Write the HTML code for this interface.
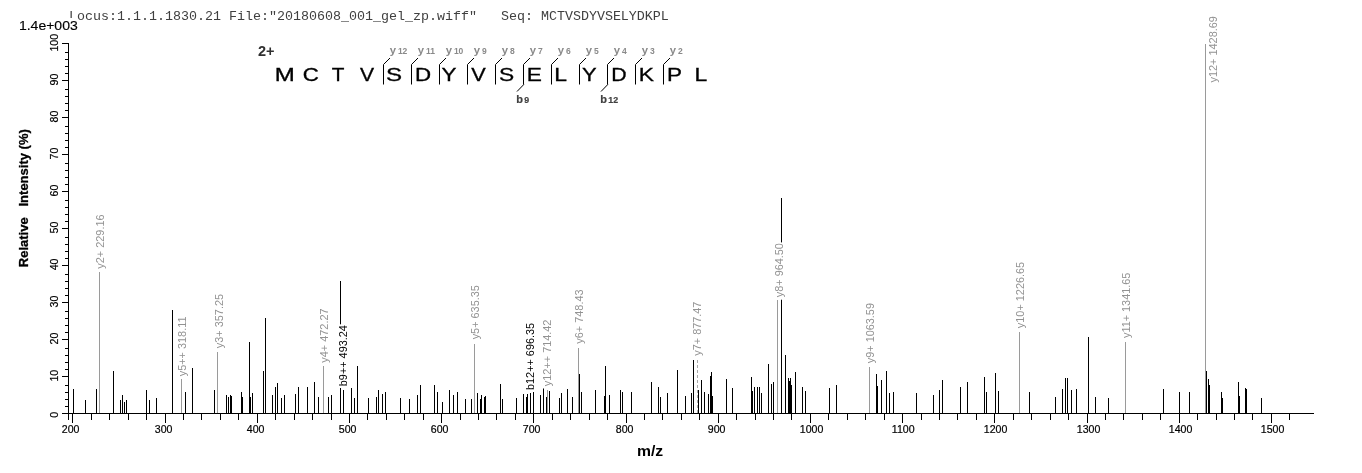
<!DOCTYPE html>
<html><head><meta charset="utf-8"><style>
html,body{margin:0;padding:0;background:#fff;}
body{width:1362px;height:473px;overflow:hidden;position:relative;}
svg{position:absolute;left:0;top:0;will-change:transform;}
text{font-family:"Liberation Sans",sans-serif;}
.pl{font-size:10.0px;}
.tl{font-size:10.0px;fill:#000;stroke:#000;stroke-width:0.2px;}
.sq{font-size:17.8px;fill:#000;stroke:#000;stroke-width:0.3px;}
.yi{font-size:11.3px;font-weight:bold;fill:#8a8a8a;}
.ys{font-size:8.5px;}
.bi{font-size:11px;font-weight:bold;fill:#404040;stroke:#404040;stroke-width:0.2px;}
.bs{font-size:8.8px;}
.hdr{font-family:"Liberation Mono",monospace;font-size:13.33px;fill:#404040;}
</style></head><body>
<svg width="1362" height="473" viewBox="0 0 1362 473">
<text x="69" y="19.8" class="hdr" xml:space="preserve">Locus:1.1.1.1830.21 File:"20180608_001_gel_zp.wiff"   Seq: MCTVSDYVSELYDKPL</text>
<rect x="18" y="18" width="59" height="13" fill="#fff"/>
<text transform="translate(18.9,30) scale(1.055,1)" style="font-size:13.3px;stroke:#000;stroke-width:0.15px" fill="#000">1.4e+003</text>
<rect x="73" y="389" width="1" height="24" fill="#000"/><rect x="85" y="400" width="1" height="13" fill="#000"/><rect x="96" y="389" width="1" height="24" fill="#000"/><rect x="99" y="272" width="1" height="141" fill="#9a9a9a"/><rect x="113" y="371" width="1" height="42" fill="#000"/><rect x="120" y="400" width="1" height="13" fill="#000"/><rect x="122" y="395" width="1" height="18" fill="#000"/><rect x="124" y="402" width="1" height="11" fill="#000"/><rect x="126" y="400" width="1" height="13" fill="#000"/><rect x="146" y="390" width="1" height="23" fill="#000"/><rect x="149" y="400" width="1" height="13" fill="#000"/><rect x="156" y="398" width="1" height="15" fill="#000"/><rect x="172" y="310" width="1" height="103" fill="#000"/><rect x="181" y="379" width="1" height="34" fill="#9a9a9a"/><rect x="185" y="392" width="1" height="21" fill="#000"/><rect x="192" y="368" width="1" height="45" fill="#000"/><rect x="214" y="390" width="1" height="23" fill="#000"/><rect x="217" y="352" width="1" height="61" fill="#9a9a9a"/><rect x="226" y="395" width="1" height="18" fill="#000"/><rect x="228" y="397" width="1" height="16" fill="#000"/><rect x="230" y="395" width="1" height="18" fill="#000"/><rect x="231" y="396" width="1" height="17" fill="#000"/><rect x="241" y="392" width="1" height="21" fill="#000"/><rect x="242" y="397" width="1" height="16" fill="#000"/><rect x="249" y="342" width="1" height="71" fill="#000"/><rect x="250" y="397" width="1" height="16" fill="#000"/><rect x="252" y="393" width="1" height="20" fill="#000"/><rect x="263" y="371" width="1" height="42" fill="#000"/><rect x="265" y="318" width="1" height="95" fill="#000"/><rect x="272" y="395" width="1" height="18" fill="#000"/><rect x="275" y="387" width="1" height="26" fill="#000"/><rect x="277" y="383" width="1" height="30" fill="#000"/><rect x="281" y="398" width="1" height="15" fill="#000"/><rect x="284" y="395" width="1" height="18" fill="#000"/><rect x="295" y="394" width="1" height="19" fill="#000"/><rect x="298" y="387" width="1" height="26" fill="#000"/><rect x="307" y="387" width="1" height="26" fill="#000"/><rect x="314" y="382" width="1" height="31" fill="#000"/><rect x="318" y="397" width="1" height="16" fill="#000"/><rect x="323" y="366" width="1" height="47" fill="#9a9a9a"/><rect x="328" y="397" width="1" height="16" fill="#000"/><rect x="331" y="395" width="1" height="18" fill="#000"/><rect x="340" y="281" width="1" height="132" fill="#000"/><rect x="343" y="390" width="1" height="23" fill="#000"/><rect x="351" y="388" width="1" height="25" fill="#000"/><rect x="354" y="398" width="1" height="15" fill="#000"/><rect x="357" y="366" width="1" height="47" fill="#000"/><rect x="368" y="398" width="1" height="15" fill="#000"/><rect x="376" y="397" width="1" height="16" fill="#000"/><rect x="378" y="390" width="1" height="23" fill="#000"/><rect x="382" y="394" width="1" height="19" fill="#000"/><rect x="385" y="392" width="1" height="21" fill="#000"/><rect x="400" y="398" width="1" height="15" fill="#000"/><rect x="409" y="399" width="1" height="14" fill="#000"/><rect x="417" y="395" width="1" height="18" fill="#000"/><rect x="420" y="385" width="1" height="28" fill="#000"/><rect x="434" y="385" width="1" height="28" fill="#000"/><rect x="437" y="392" width="1" height="21" fill="#000"/><rect x="442" y="402" width="1" height="11" fill="#000"/><rect x="449" y="390" width="1" height="23" fill="#000"/><rect x="453" y="395" width="1" height="18" fill="#000"/><rect x="457" y="392" width="1" height="21" fill="#000"/><rect x="465" y="399" width="1" height="14" fill="#000"/><rect x="471" y="399" width="1" height="14" fill="#000"/><rect x="474" y="344" width="1" height="69" fill="#9a9a9a"/><rect x="477" y="393" width="1" height="20" fill="#000"/><rect x="480" y="399" width="1" height="14" fill="#000"/><rect x="481" y="395" width="1" height="18" fill="#000"/><rect x="484" y="397" width="1" height="16" fill="#000"/><rect x="485" y="396" width="1" height="17" fill="#000"/><rect x="500" y="384" width="1" height="29" fill="#000"/><rect x="502" y="399" width="1" height="14" fill="#000"/><rect x="516" y="398" width="1" height="15" fill="#000"/><rect x="523" y="394" width="1" height="19" fill="#000"/><rect x="526" y="397" width="1" height="16" fill="#000"/><rect x="527" y="394" width="1" height="19" fill="#000"/><rect x="530" y="393" width="1" height="20" fill="#000"/><rect x="533" y="392" width="1" height="21" fill="#000"/><rect x="540" y="395" width="1" height="18" fill="#000"/><rect x="543" y="388" width="1" height="25" fill="#000"/><rect x="546" y="397" width="1" height="16" fill="#000"/><rect x="547" y="390" width="1" height="23" fill="#9a9a9a"/><rect x="549" y="391" width="1" height="22" fill="#000"/><rect x="559" y="398" width="1" height="15" fill="#000"/><rect x="561" y="393" width="1" height="20" fill="#000"/><rect x="567" y="389" width="1" height="24" fill="#000"/><rect x="572" y="397" width="1" height="16" fill="#000"/><rect x="578" y="348" width="1" height="65" fill="#9a9a9a"/><rect x="579" y="374" width="1" height="39" fill="#000"/><rect x="581" y="392" width="1" height="21" fill="#000"/><rect x="595" y="390" width="1" height="23" fill="#000"/><rect x="604" y="396" width="1" height="17" fill="#000"/><rect x="605" y="366" width="1" height="47" fill="#000"/><rect x="609" y="395" width="1" height="18" fill="#000"/><rect x="620" y="390" width="1" height="23" fill="#000"/><rect x="622" y="392" width="1" height="21" fill="#000"/><rect x="631" y="392" width="1" height="21" fill="#000"/><rect x="651" y="382" width="1" height="31" fill="#000"/><rect x="658" y="387" width="1" height="26" fill="#000"/><rect x="660" y="397" width="1" height="16" fill="#000"/><rect x="667" y="393" width="1" height="20" fill="#000"/><rect x="677" y="370" width="1" height="43" fill="#000"/><rect x="685" y="396" width="1" height="17" fill="#000"/><rect x="691" y="393" width="1" height="20" fill="#000"/><rect x="693" y="360" width="1" height="53" fill="#000"/><path d="M697.5 360 V413" stroke="#a8a8a8" stroke-width="1" stroke-dasharray="3 2" fill="none"/><rect x="698" y="390" width="1" height="23" fill="#000"/><rect x="701" y="380" width="1" height="33" fill="#000"/><rect x="704" y="392" width="1" height="21" fill="#000"/><rect x="708" y="394" width="1" height="19" fill="#000"/><rect x="710" y="376" width="1" height="37" fill="#000"/><rect x="711" y="372" width="1" height="41" fill="#000"/><rect x="712" y="396" width="1" height="17" fill="#000"/><rect x="726" y="379" width="1" height="34" fill="#000"/><rect x="732" y="388" width="1" height="25" fill="#000"/><rect x="751" y="377" width="1" height="36" fill="#000"/><rect x="752" y="391" width="1" height="22" fill="#000"/><rect x="754" y="387" width="1" height="26" fill="#000"/><rect x="757" y="387" width="1" height="26" fill="#000"/><rect x="759" y="387" width="1" height="26" fill="#000"/><rect x="761" y="393" width="1" height="20" fill="#000"/><rect x="768" y="364" width="1" height="49" fill="#000"/><rect x="771" y="384" width="1" height="29" fill="#000"/><rect x="773" y="382" width="1" height="31" fill="#000"/><rect x="777" y="300" width="1" height="113" fill="#9a9a9a"/><rect x="781" y="198" width="1" height="215" fill="#000"/><rect x="785" y="355" width="1" height="58" fill="#000"/><rect x="788" y="378" width="1" height="35" fill="#000"/><rect x="789" y="381" width="1" height="32" fill="#000"/><rect x="790" y="378" width="1" height="35" fill="#000"/><rect x="791" y="385" width="1" height="28" fill="#000"/><rect x="795" y="372" width="1" height="41" fill="#000"/><rect x="802" y="387" width="1" height="26" fill="#000"/><rect x="805" y="391" width="1" height="22" fill="#000"/><rect x="829" y="388" width="1" height="25" fill="#000"/><rect x="836" y="385" width="1" height="28" fill="#000"/><rect x="869" y="367" width="1" height="46" fill="#9a9a9a"/><rect x="876" y="374" width="1" height="39" fill="#000"/><rect x="877" y="386" width="1" height="27" fill="#000"/><rect x="881" y="380" width="1" height="33" fill="#000"/><rect x="886" y="371" width="1" height="42" fill="#000"/><rect x="889" y="393" width="1" height="20" fill="#000"/><rect x="893" y="392" width="1" height="21" fill="#000"/><rect x="916" y="393" width="1" height="20" fill="#000"/><rect x="933" y="395" width="1" height="18" fill="#000"/><rect x="939" y="390" width="1" height="23" fill="#000"/><rect x="942" y="380" width="1" height="33" fill="#000"/><rect x="960" y="387" width="1" height="26" fill="#000"/><rect x="967" y="382" width="1" height="31" fill="#000"/><rect x="984" y="377" width="1" height="36" fill="#000"/><rect x="986" y="392" width="1" height="21" fill="#000"/><rect x="995" y="373" width="1" height="40" fill="#000"/><rect x="998" y="391" width="1" height="22" fill="#000"/><rect x="1019" y="332" width="1" height="81" fill="#9a9a9a"/><rect x="1029" y="392" width="1" height="21" fill="#000"/><rect x="1055" y="397" width="1" height="16" fill="#000"/><rect x="1062" y="389" width="1" height="24" fill="#000"/><rect x="1065" y="378" width="1" height="35" fill="#000"/><rect x="1067" y="378" width="1" height="35" fill="#000"/><rect x="1071" y="390" width="1" height="23" fill="#000"/><rect x="1076" y="389" width="1" height="24" fill="#000"/><rect x="1088" y="337" width="1" height="76" fill="#000"/><rect x="1095" y="397" width="1" height="16" fill="#000"/><rect x="1108" y="398" width="1" height="15" fill="#000"/><rect x="1125" y="342" width="1" height="71" fill="#9a9a9a"/><rect x="1163" y="389" width="1" height="24" fill="#000"/><rect x="1179" y="392" width="1" height="21" fill="#000"/><rect x="1189" y="392" width="1" height="21" fill="#000"/><rect x="1205" y="44" width="1" height="369" fill="#9a9a9a"/><rect x="1206" y="371" width="1" height="42" fill="#000"/><rect x="1208" y="379" width="1" height="34" fill="#000"/><rect x="1209" y="385" width="1" height="28" fill="#000"/><rect x="1221" y="392" width="1" height="21" fill="#000"/><rect x="1222" y="398" width="1" height="15" fill="#000"/><rect x="1238" y="382" width="1" height="31" fill="#000"/><rect x="1239" y="396" width="1" height="17" fill="#000"/><rect x="1245" y="388" width="1" height="25" fill="#000"/><rect x="1246" y="389" width="1" height="24" fill="#000"/><rect x="1261" y="398" width="1" height="15" fill="#000"/>
<rect x="96.7" y="213.9" width="9.1" height="57.2" fill="#fff"/><text transform="translate(104.29,268.63) rotate(-90) scale(1.09,1)" class="pl" fill="#929292">y2+ 229.16</text><rect x="178.7" y="315.1" width="9.1" height="63.6" fill="#fff"/><text transform="translate(186.29,376.23) rotate(-90) scale(1.09,1)" class="pl" fill="#929292">y5++ 318.11</text><rect x="215.7" y="293.3" width="9.1" height="57.3" fill="#fff"/><text transform="translate(223.29,348.13) rotate(-90) scale(1.09,1)" class="pl" fill="#929292">y3+ 357.25</text><rect x="320.4" y="307.9" width="9.1" height="57.2" fill="#fff"/><text transform="translate(327.99,362.63) rotate(-90) scale(1.09,1)" class="pl" fill="#929292">y4+ 472.27</text><rect x="339.9" y="324.3" width="9.1" height="63.7" fill="#fff"/><text transform="translate(347.49,386.20) rotate(-90) scale(1.09,1)" class="pl" fill="#000">b9++ 493.24</text><rect x="471.8" y="284.5" width="9.1" height="57.3" fill="#fff"/><text transform="translate(479.39,339.33) rotate(-90) scale(1.09,1)" class="pl" fill="#929292">y5+ 635.35</text><rect x="526.9" y="322.2" width="9.1" height="69.6" fill="#fff"/><text transform="translate(534.49,390.00) rotate(-90) scale(1.09,1)" class="pl" fill="#000">b12++ 696.35</text><rect x="543.2" y="319.0" width="9.1" height="69.6" fill="#fff"/><text transform="translate(550.79,386.13) rotate(-90) scale(1.09,1)" class="pl" fill="#929292">y12++ 714.42</text><rect x="575.8" y="288.9" width="9.1" height="57.2" fill="#fff"/><text transform="translate(583.39,343.63) rotate(-90) scale(1.09,1)" class="pl" fill="#929292">y6+ 748.43</text><rect x="693.7" y="301.0" width="9.1" height="57.2" fill="#fff"/><text transform="translate(701.29,355.73) rotate(-90) scale(1.09,1)" class="pl" fill="#929292">y7+ 877.47</text><rect x="775.1" y="242.4" width="9.1" height="57.3" fill="#fff"/><text transform="translate(782.69,297.23) rotate(-90) scale(1.09,1)" class="pl" fill="#929292">y8+ 964.50</text><rect x="866.1" y="302.4" width="9.1" height="63.3" fill="#fff"/><text transform="translate(873.69,363.23) rotate(-90) scale(1.09,1)" class="pl" fill="#929292">y9+ 1063.59</text><rect x="1016.7" y="261.2" width="9.1" height="69.4" fill="#fff"/><text transform="translate(1024.29,328.13) rotate(-90) scale(1.09,1)" class="pl" fill="#929292">y10+ 1226.65</text><rect x="1122.6" y="271.1" width="9.1" height="69.4" fill="#fff"/><text transform="translate(1130.19,338.03) rotate(-90) scale(1.09,1)" class="pl" fill="#929292">y11+ 1341.65</text><rect x="1209.4" y="15.6" width="9.1" height="69.3" fill="#fff"/><text transform="translate(1216.99,82.43) rotate(-90) scale(1.09,1)" class="pl" fill="#929292">y12+ 1428.69</text>
<rect x="62" y="413" width="1252" height="1" fill="#000"/><rect x="68" y="43" width="1" height="377" fill="#000"/><rect x="72" y="414" width="1" height="9" fill="#000"/><text transform="translate(61.80,433) scale(1.06,1)" class="tl">200</text><rect x="91" y="414" width="1" height="6" fill="#000"/><rect x="109" y="414" width="1" height="6" fill="#000"/><rect x="128" y="414" width="1" height="6" fill="#000"/><rect x="146" y="414" width="1" height="6" fill="#000"/><rect x="165" y="414" width="1" height="9" fill="#000"/><text transform="translate(154.80,433) scale(1.06,1)" class="tl">300</text><rect x="183" y="414" width="1" height="6" fill="#000"/><rect x="201" y="414" width="1" height="6" fill="#000"/><rect x="220" y="414" width="1" height="6" fill="#000"/><rect x="238" y="414" width="1" height="6" fill="#000"/><rect x="257" y="414" width="1" height="9" fill="#000"/><text transform="translate(246.80,433) scale(1.06,1)" class="tl">400</text><rect x="275" y="414" width="1" height="6" fill="#000"/><rect x="294" y="414" width="1" height="6" fill="#000"/><rect x="312" y="414" width="1" height="6" fill="#000"/><rect x="331" y="414" width="1" height="6" fill="#000"/><rect x="349" y="414" width="1" height="9" fill="#000"/><text transform="translate(338.80,433) scale(1.06,1)" class="tl">500</text><rect x="367" y="414" width="1" height="6" fill="#000"/><rect x="386" y="414" width="1" height="6" fill="#000"/><rect x="404" y="414" width="1" height="6" fill="#000"/><rect x="423" y="414" width="1" height="6" fill="#000"/><rect x="441" y="414" width="1" height="9" fill="#000"/><text transform="translate(430.80,433) scale(1.06,1)" class="tl">600</text><rect x="460" y="414" width="1" height="6" fill="#000"/><rect x="478" y="414" width="1" height="6" fill="#000"/><rect x="496" y="414" width="1" height="6" fill="#000"/><rect x="515" y="414" width="1" height="6" fill="#000"/><rect x="533" y="414" width="1" height="9" fill="#000"/><text transform="translate(522.80,433) scale(1.06,1)" class="tl">700</text><rect x="552" y="414" width="1" height="6" fill="#000"/><rect x="570" y="414" width="1" height="6" fill="#000"/><rect x="589" y="414" width="1" height="6" fill="#000"/><rect x="607" y="414" width="1" height="6" fill="#000"/><rect x="626" y="414" width="1" height="9" fill="#000"/><text transform="translate(615.80,433) scale(1.06,1)" class="tl">800</text><rect x="644" y="414" width="1" height="6" fill="#000"/><rect x="662" y="414" width="1" height="6" fill="#000"/><rect x="681" y="414" width="1" height="6" fill="#000"/><rect x="699" y="414" width="1" height="6" fill="#000"/><rect x="718" y="414" width="1" height="9" fill="#000"/><text transform="translate(707.80,433) scale(1.06,1)" class="tl">900</text><rect x="736" y="414" width="1" height="6" fill="#000"/><rect x="755" y="414" width="1" height="6" fill="#000"/><rect x="773" y="414" width="1" height="6" fill="#000"/><rect x="791" y="414" width="1" height="6" fill="#000"/><rect x="810" y="414" width="1" height="9" fill="#000"/><text transform="translate(799.80,433) scale(1.06,1)" class="tl">1000</text><rect x="828" y="414" width="1" height="6" fill="#000"/><rect x="847" y="414" width="1" height="6" fill="#000"/><rect x="865" y="414" width="1" height="6" fill="#000"/><rect x="884" y="414" width="1" height="6" fill="#000"/><rect x="902" y="414" width="1" height="9" fill="#000"/><text transform="translate(891.80,433) scale(1.06,1)" class="tl">1100</text><rect x="921" y="414" width="1" height="6" fill="#000"/><rect x="939" y="414" width="1" height="6" fill="#000"/><rect x="957" y="414" width="1" height="6" fill="#000"/><rect x="976" y="414" width="1" height="6" fill="#000"/><rect x="994" y="414" width="1" height="9" fill="#000"/><text transform="translate(983.80,433) scale(1.06,1)" class="tl">1200</text><rect x="1013" y="414" width="1" height="6" fill="#000"/><rect x="1031" y="414" width="1" height="6" fill="#000"/><rect x="1050" y="414" width="1" height="6" fill="#000"/><rect x="1068" y="414" width="1" height="6" fill="#000"/><rect x="1087" y="414" width="1" height="9" fill="#000"/><text transform="translate(1076.80,433) scale(1.06,1)" class="tl">1300</text><rect x="1105" y="414" width="1" height="6" fill="#000"/><rect x="1123" y="414" width="1" height="6" fill="#000"/><rect x="1142" y="414" width="1" height="6" fill="#000"/><rect x="1160" y="414" width="1" height="6" fill="#000"/><rect x="1179" y="414" width="1" height="9" fill="#000"/><text transform="translate(1168.80,433) scale(1.06,1)" class="tl">1400</text><rect x="1197" y="414" width="1" height="6" fill="#000"/><rect x="1216" y="414" width="1" height="6" fill="#000"/><rect x="1234" y="414" width="1" height="6" fill="#000"/><rect x="1252" y="414" width="1" height="6" fill="#000"/><rect x="1271" y="414" width="1" height="9" fill="#000"/><text transform="translate(1260.80,433) scale(1.06,1)" class="tl">1500</text><rect x="1289" y="414" width="1" height="6" fill="#000"/><rect x="62" y="413" width="6" height="1" fill="#000"/><text transform="translate(58,417.65) rotate(-90) scale(1.06,1)" class="tl">0</text><rect x="65" y="406" width="3" height="1" fill="#000"/><rect x="65" y="399" width="3" height="1" fill="#000"/><rect x="65" y="392" width="3" height="1" fill="#000"/><rect x="65" y="385" width="3" height="1" fill="#000"/><rect x="62" y="376" width="6" height="1" fill="#000"/><text transform="translate(58,381.59) rotate(-90) scale(1.06,1)" class="tl">10</text><rect x="65" y="369" width="3" height="1" fill="#000"/><rect x="65" y="362" width="3" height="1" fill="#000"/><rect x="65" y="355" width="3" height="1" fill="#000"/><rect x="65" y="348" width="3" height="1" fill="#000"/><rect x="62" y="339" width="6" height="1" fill="#000"/><text transform="translate(58,344.45) rotate(-90) scale(1.06,1)" class="tl">20</text><rect x="65" y="332" width="3" height="1" fill="#000"/><rect x="65" y="325" width="3" height="1" fill="#000"/><rect x="65" y="318" width="3" height="1" fill="#000"/><rect x="65" y="311" width="3" height="1" fill="#000"/><rect x="62" y="302" width="6" height="1" fill="#000"/><text transform="translate(58,307.39) rotate(-90) scale(1.06,1)" class="tl">30</text><rect x="65" y="295" width="3" height="1" fill="#000"/><rect x="65" y="288" width="3" height="1" fill="#000"/><rect x="65" y="281" width="3" height="1" fill="#000"/><rect x="65" y="274" width="3" height="1" fill="#000"/><rect x="62" y="265" width="6" height="1" fill="#000"/><text transform="translate(58,270.31) rotate(-90) scale(1.06,1)" class="tl">40</text><rect x="65" y="258" width="3" height="1" fill="#000"/><rect x="65" y="251" width="3" height="1" fill="#000"/><rect x="65" y="244" width="3" height="1" fill="#000"/><rect x="65" y="237" width="3" height="1" fill="#000"/><rect x="62" y="228" width="6" height="1" fill="#000"/><text transform="translate(58,233.40) rotate(-90) scale(1.06,1)" class="tl">50</text><rect x="65" y="221" width="3" height="1" fill="#000"/><rect x="65" y="214" width="3" height="1" fill="#000"/><rect x="65" y="207" width="3" height="1" fill="#000"/><rect x="65" y="200" width="3" height="1" fill="#000"/><rect x="62" y="191" width="6" height="1" fill="#000"/><text transform="translate(58,196.46) rotate(-90) scale(1.06,1)" class="tl">60</text><rect x="65" y="184" width="3" height="1" fill="#000"/><rect x="65" y="177" width="3" height="1" fill="#000"/><rect x="65" y="170" width="3" height="1" fill="#000"/><rect x="65" y="163" width="3" height="1" fill="#000"/><rect x="62" y="154" width="6" height="1" fill="#000"/><text transform="translate(58,159.46) rotate(-90) scale(1.06,1)" class="tl">70</text><rect x="65" y="147" width="3" height="1" fill="#000"/><rect x="65" y="140" width="3" height="1" fill="#000"/><rect x="65" y="133" width="3" height="1" fill="#000"/><rect x="65" y="126" width="3" height="1" fill="#000"/><rect x="62" y="117" width="6" height="1" fill="#000"/><text transform="translate(58,122.42) rotate(-90) scale(1.06,1)" class="tl">80</text><rect x="65" y="110" width="3" height="1" fill="#000"/><rect x="65" y="103" width="3" height="1" fill="#000"/><rect x="65" y="96" width="3" height="1" fill="#000"/><rect x="65" y="89" width="3" height="1" fill="#000"/><rect x="62" y="80" width="6" height="1" fill="#000"/><text transform="translate(58,85.44) rotate(-90) scale(1.06,1)" class="tl">90</text><rect x="65" y="73" width="3" height="1" fill="#000"/><rect x="65" y="66" width="3" height="1" fill="#000"/><rect x="65" y="59" width="3" height="1" fill="#000"/><rect x="65" y="52" width="3" height="1" fill="#000"/><rect x="62" y="43" width="6" height="1" fill="#000"/><text transform="translate(58,51.54) rotate(-90) scale(1.06,1)" class="tl">100</text>
<text transform="translate(28,267.2) rotate(-90)" style="font-size:13px;font-weight:bold;stroke:#000;stroke-width:0.3px" fill="#000" xml:space="preserve">Relative   Intensity (%)</text>
<text transform="translate(637,455.6) scale(1.1,1)" style="font-size:14.3px;font-weight:bold" fill="#000">m/z</text>
<text x="258" y="55.7" style="font-size:14.5px;font-weight:bold" fill="#303030">2+</text>
<text transform="translate(274.63,80.8) scale(1.352,1)" class="sq">M</text><text transform="translate(302.67,80.8) scale(1.251,1)" class="sq">C</text><text transform="translate(331.64,80.8) scale(1.162,1)" class="sq">T</text><text transform="translate(359.91,80.8) scale(1.186,1)" class="sq">V</text><text transform="translate(386.10,80.8) scale(1.356,1)" class="sq">S</text><text transform="translate(414.97,80.8) scale(1.252,1)" class="sq">D</text><text transform="translate(441.61,80.8) scale(1.262,1)" class="sq">Y</text><text transform="translate(471.20,80.8) scale(1.221,1)" class="sq">V</text><text transform="translate(498.97,80.8) scale(1.278,1)" class="sq">S</text><text transform="translate(526.74,80.8) scale(1.275,1)" class="sq">E</text><text transform="translate(554.22,80.8) scale(1.287,1)" class="sq">L</text><text transform="translate(582.02,80.8) scale(1.235,1)" class="sq">Y</text><text transform="translate(611.25,80.8) scale(1.195,1)" class="sq">D</text><text transform="translate(638.83,80.8) scale(1.283,1)" class="sq">K</text><text transform="translate(666.95,80.8) scale(1.267,1)" class="sq">P</text><text transform="translate(694.62,80.8) scale(1.287,1)" class="sq">L</text><path d="M383.5 84.5 V64.5 L390.0 58" stroke="#000" stroke-width="1" fill="none"/><text x="389.8" y="53.7" class="yi">y<tspan class="ys" dx="1.8">12</tspan></text><path d="M411.5 84.5 V64.5 L418.0 58" stroke="#000" stroke-width="1" fill="none"/><text x="417.8" y="53.7" class="yi">y<tspan class="ys" dx="1.8">11</tspan></text><path d="M439.5 84.5 V64.5 L446.0 58" stroke="#000" stroke-width="1" fill="none"/><text x="445.8" y="53.7" class="yi">y<tspan class="ys" dx="1.8">10</tspan></text><path d="M467.5 84.5 V64.5 L474.0 58" stroke="#000" stroke-width="1" fill="none"/><text x="473.8" y="53.7" class="yi">y<tspan class="ys" dx="1.8">9</tspan></text><path d="M495.5 84.5 V64.5 L502.0 58" stroke="#000" stroke-width="1" fill="none"/><text x="501.8" y="53.7" class="yi">y<tspan class="ys" dx="1.8">8</tspan></text><path d="M523.5 84.5 V64.5 L530.0 58" stroke="#000" stroke-width="1" fill="none"/><text x="529.8" y="53.7" class="yi">y<tspan class="ys" dx="1.8">7</tspan></text><path d="M551.5 84.5 V64.5 L558.0 58" stroke="#000" stroke-width="1" fill="none"/><text x="557.8" y="53.7" class="yi">y<tspan class="ys" dx="1.8">6</tspan></text><path d="M579.5 84.5 V64.5 L586.0 58" stroke="#000" stroke-width="1" fill="none"/><text x="585.8" y="53.7" class="yi">y<tspan class="ys" dx="1.8">5</tspan></text><path d="M607.5 84.5 V64.5 L614.0 58" stroke="#000" stroke-width="1" fill="none"/><text x="613.8" y="53.7" class="yi">y<tspan class="ys" dx="1.8">4</tspan></text><path d="M635.5 84.5 V64.5 L642.0 58" stroke="#000" stroke-width="1" fill="none"/><text x="641.8" y="53.7" class="yi">y<tspan class="ys" dx="1.8">3</tspan></text><path d="M663.5 84.5 V64.5 L670.0 58" stroke="#000" stroke-width="1" fill="none"/><text x="669.8" y="53.7" class="yi">y<tspan class="ys" dx="1.8">2</tspan></text><path d="M523.5 84.5 L523.8 84.5 L517.0 91.5" stroke="#000" stroke-width="1" fill="none"/><text x="516.3" y="102.5" class="bi">b<tspan class="bs" dx="1.2">9</tspan></text><path d="M607.5 84.5 L607.8 84.5 L601.0 91.5" stroke="#000" stroke-width="1" fill="none"/><text x="600.3" y="102.5" class="bi">b<tspan class="bs" dx="1.2">12</tspan></text>
</svg>
</body></html>
